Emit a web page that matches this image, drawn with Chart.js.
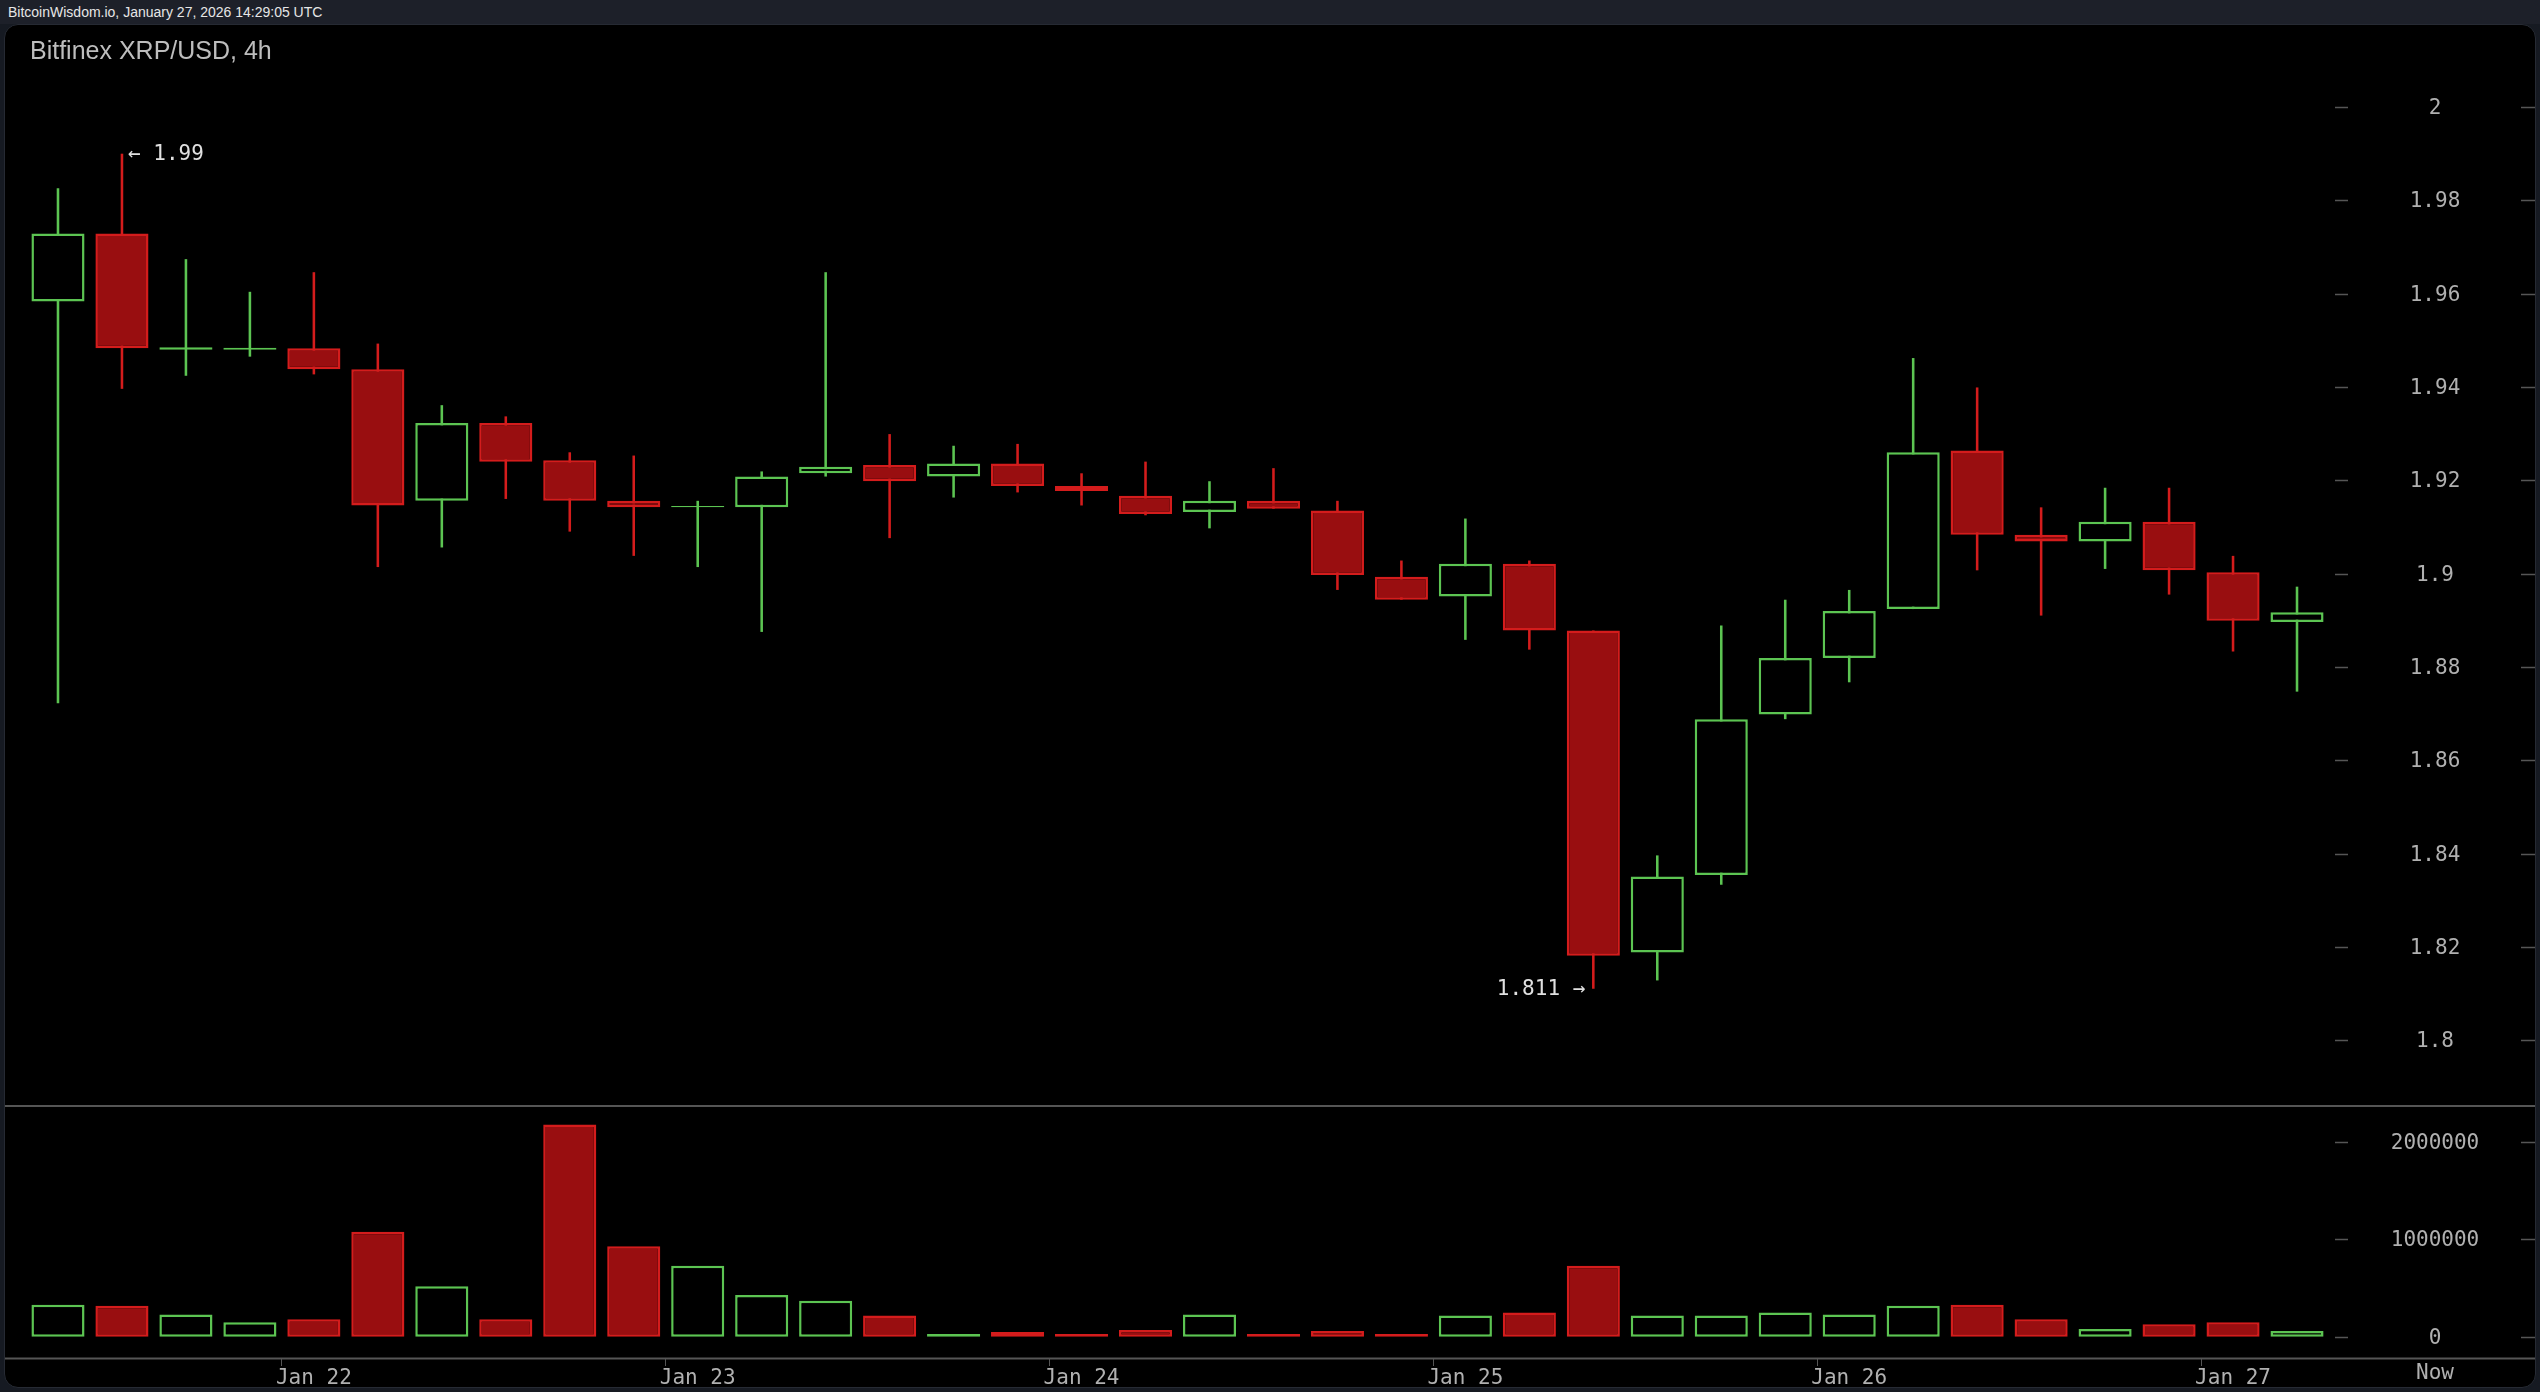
<!DOCTYPE html>
<html><head><meta charset="utf-8">
<script src="https://cdn.jsdelivr.net/npm/chart.js@4"></script>
<style>
html,body{margin:0;padding:0;background:#161a22;width:2540px;height:1392px;overflow:hidden;font-family:"Liberation Sans",Arial,sans-serif}
#top{position:absolute;left:0;top:0;width:2540px;height:24px;background:#1d2029;color:#e6e6e6;font-size:14px;line-height:24px;padding-left:8px;box-sizing:border-box}
#panel{position:absolute;left:4px;top:24px;width:2532px;height:1364px;background:#000;border-radius:14px;border:1px solid #262a33;box-sizing:border-box;overflow:hidden}
#title{position:absolute;left:30px;top:36px;color:#bdbdbd;font-size:25px}
#c1{position:absolute;left:5px;top:24px}
#c2{position:absolute;left:5px;top:1105px}
</style></head><body>
<div id="top">BitcoinWisdom.io, January 27, 2026 14:29:05 UTC</div>
<div id="panel"></div>
<canvas id="c1" width="2530" height="1081" style="width:2530px;height:1081px"></canvas>
<canvas id="c2" width="2530" height="283" style="width:2530px;height:283px"></canvas>
<div id="title">Bitfinex XRP/USD, 4h</div>
<script>
const openP =[1.9583,1.9729,1.9480,1.9480,1.9483,1.9438,1.9156,1.9323,1.9243,1.9156,1.9142,1.9142,1.9215,1.9233,1.9208,1.9236,1.9188,1.9167,1.9132,1.9156,1.9135,1.8993,1.8951,1.9021,1.8878,1.8188,1.8354,1.8698,1.8819,1.8924,1.9264,1.9083,1.9069,1.9111,1.9003,1.8896];
const closeP=[1.9729,1.9483,1.9485,1.9484,1.9438,1.9146,1.9323,1.9240,1.9156,1.9142,1.9145,1.9208,1.9229,1.9198,1.9236,1.9188,1.9177,1.9128,1.9156,1.9139,1.8997,1.8944,1.9021,1.8878,1.8181,1.8351,1.8688,1.8819,1.8920,1.9260,1.9083,1.9069,1.9111,1.9007,1.8899,1.8917];
const highP =[1.9826,1.9900,1.9674,1.9604,1.9646,1.9493,1.9361,1.9337,1.9260,1.9253,1.9156,1.9219,1.9646,1.9299,1.9274,1.9278,1.9215,1.9240,1.9198,1.9226,1.9156,1.9028,1.9118,1.9028,1.8878,1.8396,1.8889,1.8944,1.8965,1.9462,1.9399,1.9142,1.9184,1.9184,1.9038,1.8972];
const lowP  =[1.8722,1.9396,1.9424,1.9465,1.9427,1.9014,1.9056,1.9160,1.9090,1.9038,1.9014,1.8875,1.9208,1.9076,1.9163,1.9174,1.9146,1.9125,1.9097,1.9139,1.8965,1.8944,1.8858,1.8837,1.8110,1.8128,1.8333,1.8688,1.8767,1.8924,1.9007,1.8910,1.9010,1.8955,1.8833,1.8747];
const volume=[330000,320000,230000,150000,180000,1080000,520000,180000,2180000,930000,730000,430000,370000,220000,30000,50000,30000,70000,230000,30000,60000,30000,220000,250000,730000,220000,220000,250000,230000,320000,330000,180000,80000,130000,150000,60000];
const dayLabels={4:"Jan 22",10:"Jan 23",16:"Jan 24",22:"Jan 25",28:"Jan 26",34:"Jan 27"};
const priceTicks=[1.8,1.82,1.84,1.86,1.88,1.9,1.92,1.94,1.96,1.98,2];
const volTicks=[0,1000000,2000000];

const idx=openP.map((_,i)=>i);
const up=idx.map(i=>closeP[i]>=openP[i]);
const G='#5cc452', R='#d41c1c', RF='#990e10';
const mono='"DejaVu Sans Mono", monospace';

const yLabels={id:'yLabels',afterDraw(c){
  const y=c.scales.y,ctx=c.ctx;ctx.save();
  ctx.strokeStyle='#555';ctx.lineWidth=1.5;ctx.fillStyle='#b0b0b0';ctx.font='21px '+mono;
  ctx.textAlign='center';ctx.textBaseline='middle';
  c.options.plugins.yLabels.ticks.forEach(v=>{
    const p=Math.round(y.getPixelForValue(v))+0.5;
    ctx.beginPath();ctx.moveTo(2330,p);ctx.lineTo(2343,p);ctx.moveTo(2516,p);ctx.lineTo(2530,p);ctx.stroke();
    ctx.fillText(String(+v.toFixed(2)),2430,p+1);
  });ctx.restore();}};
const annot={id:'annot',afterDatasetsDraw(c){
  const x=c.scales.x,y=c.scales.y,ctx=c.ctx;
  ctx.save();ctx.fillStyle='#e0e0e0';ctx.font='21px '+mono;ctx.textBaseline='middle';
  ctx.textAlign='left';ctx.fillText('← 1.99',x.getPixelForValue(1)+6,y.getPixelForValue(highP[1])+1);
  ctx.textAlign='right';ctx.fillText('1.811 →',x.getPixelForValue(24)-8,y.getPixelForValue(lowP[24])+1);
  ctx.restore();}};
new Chart(document.getElementById('c1'),{type:'bar',
  data:{labels:idx,datasets:[
    {data:idx.map(i=>[openP[i],closeP[i]]),backgroundColor:idx.map(i=>up[i]?'#000':RF),borderColor:idx.map(i=>up[i]?G:R),
     borderWidth:2.5,borderSkipped:false,barPercentage:0.83,categoryPercentage:1,grouped:false,order:0},
    {data:idx.map(i=>[lowP[i],highP[i]]),backgroundColor:idx.map(i=>up[i]?G:R),borderWidth:0,
     barPercentage:0.04,categoryPercentage:1,grouped:false,order:1}]},
  options:{responsive:false,animation:false,devicePixelRatio:1,layout:{padding:{left:21,top:0,bottom:0,right:206}},
    plugins:{legend:{display:false},tooltip:{enabled:false},yLabels:{ticks:priceTicks}},
    scales:{x:{display:false,offset:true},y:{display:false,min:1.7861,max:2.0178}}},
  plugins:[annot,yLabels]});

const lines={id:'lines',afterDraw(c){
  const ctx=c.ctx;ctx.save();ctx.strokeStyle='#555';ctx.lineWidth=2;
  ctx.beginPath();ctx.moveTo(0,1);ctx.lineTo(2530,1);ctx.stroke();
  const b=c.chartArea.bottom;ctx.beginPath();ctx.moveTo(0,b+0.5);ctx.lineTo(2530,b+0.5);ctx.stroke();
  ctx.fillStyle='#b0b0b0';ctx.font='21px '+mono;ctx.textAlign='center';ctx.textBaseline='middle';
  ctx.fillText('Now',2430,b+16);ctx.restore();}};
new Chart(document.getElementById('c2'),{type:'bar',
  data:{labels:idx,datasets:[
    {data:idx.map(i=>[0,volume[i]]),backgroundColor:idx.map(i=>up[i]?'#000':RF),borderColor:idx.map(i=>up[i]?G:R),
     borderWidth:2.5,borderSkipped:false,barPercentage:0.83,categoryPercentage:1}]},
  options:{responsive:false,animation:false,devicePixelRatio:1,layout:{padding:{left:21,top:0,bottom:0,right:206}},
    plugins:{legend:{display:false},tooltip:{enabled:false},yLabels:{ticks:volTicks}},
    scales:{x:{offset:true,afterFit:s=>{s.height=283-253;},
        grid:{display:true,drawOnChartArea:false,drawTicks:true,tickLength:8,tickColor:idx.map(i=>dayLabels[i]?'#555':'rgba(0,0,0,0)')},
        border:{display:false},
        ticks:{autoSkip:false,maxRotation:0,color:'#b0b0b0',font:{family:mono,size:21},padding:0,
          callback:(v,i)=>dayLabels[i]||''}},
      y:{display:false,min:-217000,max:2380000}}},
  plugins:[lines,yLabels]});
</script></body></html>
